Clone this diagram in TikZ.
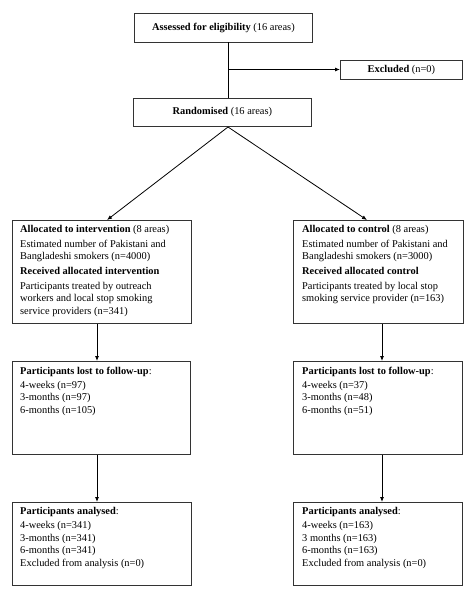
\documentclass[tikz,border=0pt]{standalone}
\usepackage{fontspec}
\setmainfont{Liberation Serif}
\usetikzlibrary{arrows.meta}
\begin{document}
\begin{tikzpicture}[x=1pt,y=1pt,
  box/.style={draw=black!80, line width=0.8pt, rectangle, inner sep=0pt, anchor=north west},
  txt/.style={inner sep=0pt, anchor=north west, align=left, font=\fontsize{10.4}{12.5}\selectfont},
  ctxt/.style={inner sep=0pt, font=\fontsize{10.4}{12.5}\selectfont},
  arr/.style={draw=black, line width=0.8pt, -{Latex[length=5pt,width=4pt]}},
  ln/.style={draw=black, line width=0.8pt}]
\useasboundingbox (0,0) rectangle (474,-606);
\fill[white] (0,0) rectangle (474,-606);

% top boxes
\node[box, minimum width=178, minimum height=29] (assess) at (134,-13) {};
\node[ctxt] (assessT) at (assess.center) {\textbf{Assessed for eligibility} (16 areas)};
\node[box, minimum width=122, minimum height=19] (excl) at (340,-60) {};
\node[ctxt] (exclT) at (excl.center) {\textbf{Excluded} (n=0)};
\node[box, minimum width=178, minimum height=28] (rand) at (133,-98) {};
\node[ctxt] (randT) at (rand.center) {\textbf{Randomised} (16 areas)};

\coordinate (vtop) at (228,-42);
\coordinate (vbot) at (228,-98);
\coordinate (branch) at (228,-69.5);
\draw[ln] (vtop) -- (vbot);
\draw[arr] (branch) -- (branch -| excl.west);

% allocation boxes
\node[box, minimum width=179, minimum height=103] (int) at (12,-220) {};
\node[txt] (intT) at ([shift={(8,-5.5)}]int.north west) {\textbf{Allocated to intervention} (8 areas)\\[2pt]
Estimated number of Pakistani and\\
Bangladeshi smokers (n=4000)\\[2pt]
\textbf{Received allocated intervention}\\[2.5pt]
Participants treated by outreach\\
workers and local stop smoking\\
service providers (n=341)};
\node[box, minimum width=170, minimum height=103] (con) at (293,-220) {};
\node[txt] (conT) at ([shift={(9,-5.5)}]con.north west) {\textbf{Allocated to control} (8 areas)\\[2pt]
Estimated number of Pakistani and\\
Bangladeshi smokers (n=3000)\\[2pt]
\textbf{Received allocated control}\\[2.5pt]
Participants treated by local stop\\
smoking service provider (n=163)};

\coordinate (rsplit) at (228,-127);
\draw[arr] (rsplit) -- (107,-220);
\draw[arr] (rsplit) -- (367,-220);

% lost boxes
\node[box, minimum width=178, minimum height=93] (lostL) at (12,-361) {};
\node[txt] (lostLT) at ([shift={(8,-5.5)}]lostL.north west) {\textbf{Participants lost to follow-up}:\\[1.5pt]
4-weeks (n=97)\\
3-months (n=97)\\
6-months (n=105)};
\node[box, minimum width=169, minimum height=93] (lostR) at (293,-361) {};
\node[txt] (lostRT) at ([shift={(9,-5.5)}]lostR.north west) {\textbf{Participants lost to follow-up}:\\[1.5pt]
4-weeks (n=37)\\
3-months (n=48)\\
6-months (n=51)};

% analysed boxes
\node[box, minimum width=179, minimum height=83] (anL) at (12,-502) {};
\node[txt] (anLT) at ([shift={(8,-5.5)}]anL.north west) {\textbf{Participants analysed}:\\[1.5pt]
4-weeks (n=341)\\
3-months (n=341)\\
6-months (n=341)\\
Excluded from analysis (n=0)};
\node[box, minimum width=169, minimum height=83] (anR) at (293,-502) {};
\node[txt] (anRT) at ([shift={(9,-5.5)}]anR.north west) {\textbf{Participants analysed}:\\[1.5pt]
4-weeks (n=163)\\
3 months (n=163)\\
6-months (n=163)\\
Excluded from analysis (n=0)};

% vertical arrows
\draw[arr] (int.south -| 97,0) -- (lostL.north -| 97,0);
\draw[arr] (lostL.south -| 97,0) -- (anL.north -| 97,0);
\draw[arr] (con.south -| 382,0) -- (lostR.north -| 382,0);
\draw[arr] (lostR.south -| 382,0) -- (anR.north -| 382,0);
\end{tikzpicture}
\end{document}
